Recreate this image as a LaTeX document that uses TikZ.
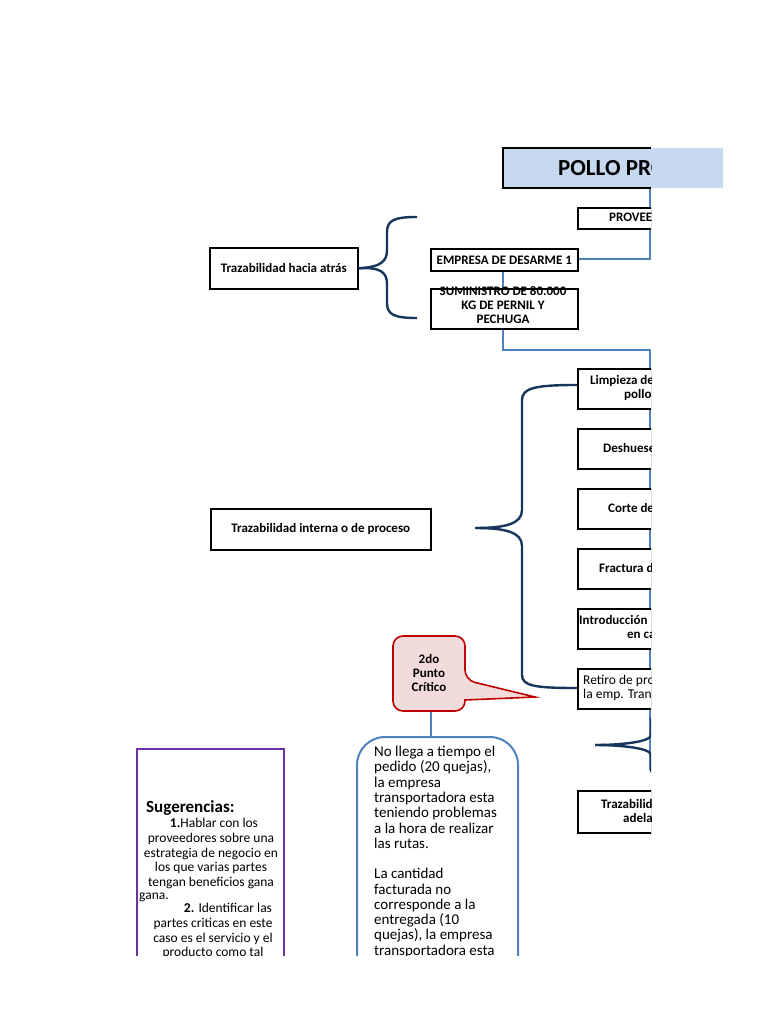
\documentclass[tikz,border=0pt]{standalone}
\usepackage{fontspec}
\setmainfont{Carlito}
\definecolor{tfill}{RGB}{198,217,240}
\definecolor{cblue}{RGB}{79,129,189}
\definecolor{navy}{RGB}{23,54,93}
\definecolor{cred}{RGB}{192,0,0}
\definecolor{cpink}{RGB}{242,220,219}
\definecolor{cpurp}{RGB}{112,48,160}
\begin{document}
\begin{tikzpicture}[x=1pt,y=-1pt,
 box/.style={draw=black,line width=1.6pt,fill=white},
 lbl/.style={font=\bfseries\fontsize{13}{14}\selectfont,align=center,inner sep=0pt},
 conn/.style={draw=cblue,line width=1.8pt},
 brace/.style={draw=navy,line width=2.4pt}]
\useasboundingbox (0,0) rectangle (768,1024);
\fill[tfill] (503,148) rectangle (723,188);
\begin{scope}
\clip (0,0) rectangle (651,955);
\draw[conn] (650,188) -- (650,259) -- (577,259);
\draw[conn] (503,270) -- (503,288);
\draw[conn] (503,328) -- (503,350) -- (650,350) -- (650,770);
\draw[conn] (431,711) -- (431,737);
\draw[line width=1.6pt] (651,148) -- (503,148) -- (503,188) -- (651,188);
\node[anchor=west,font=\bfseries\fontsize{23}{24}\selectfont,inner sep=0pt] (title) at (558,168) {POLLO PROCESADO};
\node[box,minimum width=74pt,minimum height=21pt,anchor=north west] (prov) at (577,207) {};
\node[lbl,anchor=west] at (609,217.5) {PROVEEDORES};
\node[box,lbl,minimum width=147pt,minimum height=22pt,anchor=north west] (emp) at (430,248) {EMPRESA DE DESARME 1};
\node[box,minimum width=147pt,minimum height=40pt,anchor=north west] (sum) at (430,288) {};
\node[lbl] at (503,305) {SUMINISTRO DE 80.000\\KG DE PERNIL Y\\PECHUGA};
\node[box,lbl,minimum width=148pt,minimum height=41pt,anchor=north west] (atras) at (209,247) {Trazabilidad hacia atrás};
\draw[brace] (atras.east) .. controls (380,267) and (387,262) .. (387,250) -- (387,232) .. controls (387,220) and (395,217) .. (417,217);
\draw[brace] (atras.east) .. controls (380,267) and (387,272) .. (387,284) -- (387,303) .. controls (387,315) and (395,318) .. (417,318);
\foreach \n/\y in {limp/368,desh/428,corte/488,fract/548,intro/608,ret/668}{
 \node[box,minimum width=74pt,minimum height=40pt,anchor=north west] (\n) at (577,\y) {};}
\node[lbl,anchor=west,align=left] at (590,388) {Limpieza del\\\hspace*{34pt}pollo};
\node[lbl,anchor=west] at (603,448) {Deshuese};
\node[lbl,anchor=west] at (608,508) {Corte de};
\node[lbl,anchor=west] at (599,568) {Fractura del};
\node[lbl,anchor=west,align=left] at (579,628) {Introducción\\\hspace*{48pt}en cajas};
\node[lbl,anchor=west,align=left,font=\fontsize{13.5}{14.5}\selectfont] at (583,688) {Retiro de producto\\la emp. Transp};
\node[box,lbl,minimum width=220pt,minimum height=41pt,anchor=north west] (interna) at (210,508) {Trazabilidad interna o de proceso};
\draw[brace] (475,528) .. controls (505,528) and (522,524) .. (522,510) -- (522,400) .. controls (522,388) and (535,385) .. (577,385);
\draw[brace] (475,528) .. controls (505,528) and (522,532) .. (522,546) -- (522,675) .. controls (522,686) and (535,688) .. (577,688);
\draw[brace] (595,745) .. controls (620,745) and (651,742) .. (651,735) -- (651,718);
\draw[brace] (595,745) .. controls (620,745) and (651,748) .. (651,755) -- (651,772);
\node[box,minimum width=74pt,minimum height=42pt,anchor=north west] (adel) at (577,790) {};
\node[lbl,anchor=west,align=left] at (601,811) {Trazabilidad hacia\\\hspace*{22pt}adelante};
\draw[draw=cred,line width=1.6pt,fill=cpink,rounded corners=10pt]
 (393,636) -- (465,636) -- (465,680) [sharp corners] -- (535,697) -- (465,700) [rounded corners=10pt] -- (465,711) -- (393,711) -- cycle;
\node[lbl] (crit) at (429,673) {2do\\Punto\\Crítico};
\draw[draw=cblue,line width=2pt,rounded corners=28pt] (357,1000) -- (357,737) -- (518,737) -- (518,1000);
\node[anchor=north west,align=left,inner sep=0pt,font=\fontsize{15}{15.3}\selectfont] (nota) at (374,746) {No llega a tiempo el\\pedido (20 quejas),\\la empresa\\transportadora esta\\teniendo problemas\\a la hora de realizar\\las rutas.\\[15pt]La cantidad\\facturada no\\corresponde a la\\entregada (10\\quejas), la empresa\\transportadora esta};
\draw[draw=cpurp,line width=1.8pt] (137,1000) -- (137,749) -- (284,749) -- (284,1000);
\node[anchor=west,inner sep=0pt,font=\bfseries\fontsize{17}{18}\selectfont] (sug) at (146,808) {Sugerencias:};
\node[anchor=north,align=center,inner sep=0pt,font=\fontsize{13.5}{14.8}\selectfont] at (211,818) {\hspace*{6pt}\textbf{1.}Hablar con los\\proveedores sobre una\\estrategia de negocio en\\los que varias partes\\tengan beneficios gana};
\node[anchor=west,inner sep=0pt,font=\fontsize{13.5}{14}\selectfont] at (139,897) {gana.};
\node[anchor=north,align=center,inner sep=0pt,font=\fontsize{13.5}{14.8}\selectfont] at (213,903) {\hspace*{30pt}\textbf{2.} Identificar las\\partes criticas en este\\caso es el servicio y el\\producto como tal};
\end{scope}
\end{tikzpicture}
\end{document}
